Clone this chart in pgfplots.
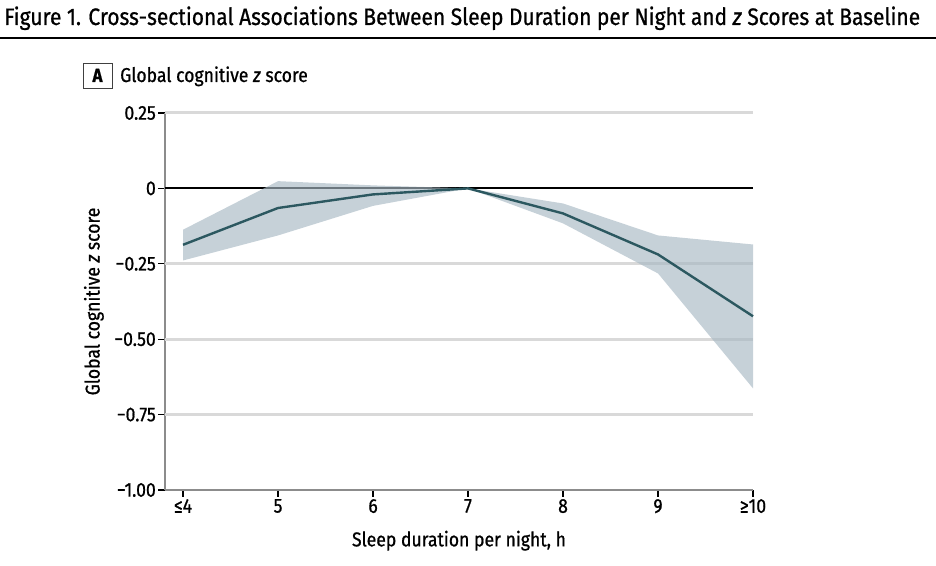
\documentclass[border=0pt]{standalone}
\usepackage{fontspec}
\setmainfont{Fira Sans}[FakeStretch=0.88,FakeBold=0.8]
\usepackage{pgfplots}
\pgfplotsset{compat=1.18}
\definecolor{linec}{RGB}{44,88,96}
\definecolor{bandc}{RGB}{167,184,195}
\definecolor{gridc}{RGB}{217,217,217}
\definecolor{axc}{RGB}{140,140,140}
\begin{document}
\begin{tikzpicture}[x=1bp,y=1bp]
\useasboundingbox (0,0) rectangle (936,566);
\node[anchor=base west,inner sep=0pt,font=\fontsize{23.8bp}{27bp}\selectfont] at (4,541) {Figure 1. Cross-sectional Associations Between Sleep Duration per Night and \textit{z} Scores at Baseline};
\draw[line width=2.5bp] (0,528) -- (936,528);
\draw[line width=0.9bp,black!75] (83,503) rectangle (112,478);
\node[anchor=base,inner sep=0pt,font=\fontsize{19bp}{22bp}\selectfont\bfseries] at (97.5,484) {A};
\node[anchor=base west,inner sep=0pt,font=\fontsize{20bp}{24bp}\selectfont] at (120,484) {Global cognitive \textit{z} score};
\begin{axis}[
  at={(165bp,76bp)}, anchor=south west,
  width=588bp, height=377bp, scale only axis,
  xmin=3.81, xmax=10, ymin=-1, ymax=0.25,
  axis x line*=bottom, axis y line*=left,
  axis line style={axc,line width=1.8bp,-},
  xtick={4,5,6,7,8,9,10},
  xticklabels={≤4,5,6,7,8,9,≥10},
  ytick={-1,-0.75,-0.5,-0.25,0,0.25},
  yticklabels={−1.00,−0.75,−0.50,−0.25,0,0.25},
  tick align=outside,
  major tick length=7bp,
  tick style={black,line width=1.2bp},
  ticklabel style={font=\fontsize{20bp}{24bp}\selectfont},
  every tick label/.append style={inner sep=2bp},
  xlabel={Sleep duration per night, h},
  ylabel={Global cognitive \textit{z} score},
  label style={font=\fontsize{20bp}{24bp}\selectfont},
  xlabel style={yshift=-12bp},
  ylabel style={yshift=5bp},
  clip=false,
]
\addplot[draw=gridc,line width=3bp,forget plot] coordinates {(3.81,0.25) (10,0.25)};
\addplot[draw=gridc,line width=3bp,forget plot] coordinates {(3.81,-0.25) (10,-0.25)};
\addplot[draw=gridc,line width=3bp,forget plot] coordinates {(3.81,-0.5) (10,-0.5)};
\addplot[draw=gridc,line width=3bp,forget plot] coordinates {(3.81,-0.75) (10,-0.75)};
\addplot[draw=black,line width=1.8bp,forget plot] coordinates {(3.81,0) (10,0)};
% confidence band: upper bound 4->10, then lower bound 10->4
\addplot[fill=bandc,fill opacity=0.65,draw=none,forget plot] coordinates {
(4,-0.137) (5,0.024) (6,0.010) (7,0) (8,-0.050) (9,-0.156) (10,-0.186)
(10,-0.663) (9,-0.282) (8,-0.116) (7,0) (6,-0.058) (5,-0.156) (4,-0.239)
} -- cycle;
\addplot[draw=linec,line width=2.4bp,line join=round] coordinates {
(4,-0.187) (5,-0.065) (6,-0.020) (7,0) (8,-0.083) (9,-0.219) (10,-0.424)
};
\end{axis}
\end{tikzpicture}
\end{document}
